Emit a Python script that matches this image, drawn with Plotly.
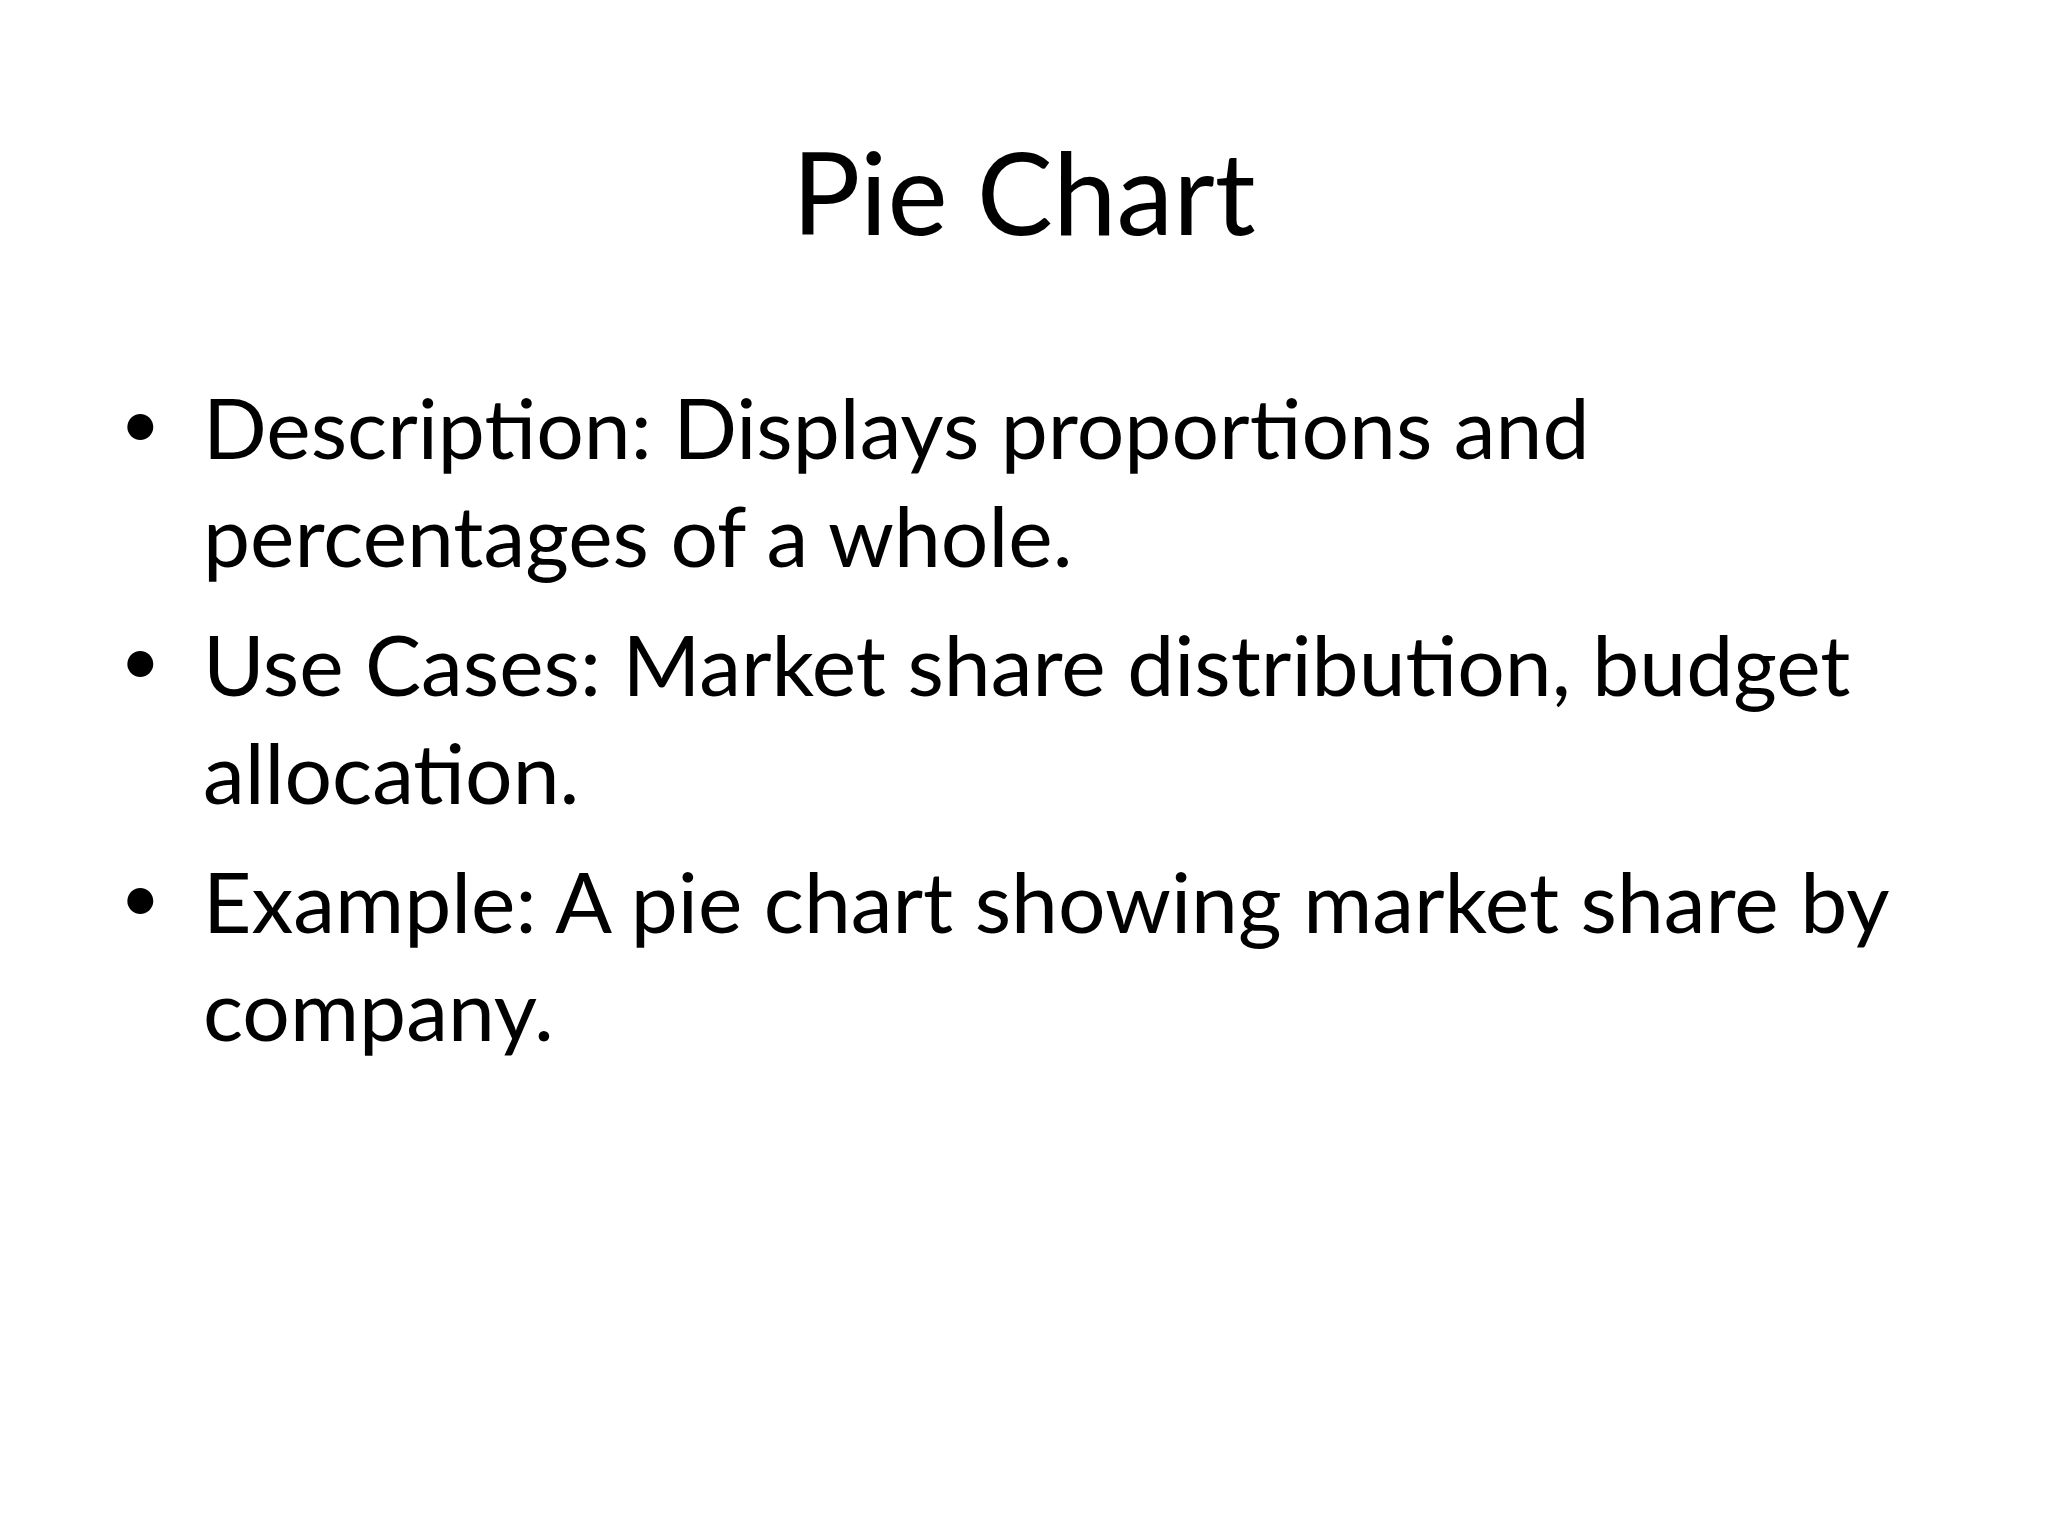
import plotly.graph_objects as go

# slide text
TITLE = "Pie Chart"
BULLETS = [
    ["Description: Displays proportions and", "percentages of a whole."],
    ["Use Cases: Market share distribution, budget", "allocation."],
    ["Example: A pie chart showing market share by", "company."],
]

W, H = 2048, 1536
FONT = "Lato, Carlito, 'Open Sans', sans-serif"

TITLE_SIZE = 114
BODY_SIZE = 84
BULLET_SIZE = 70
TITLE_X = 1016
TITLE_BASE = 239          # baseline of title, px from top
FIRST_BASE = 460          # baseline of first bullet line
LINE_GAP = 108            # within a bullet
PARA_GAP = 129            # between bullets
TEXT_X = 193
BULLET_X = 110
BULLET_RAISE = 12         # bullet glyph sits a bit above the text baseline


def ypos(baseline, size):
    # annotation box is centred; shift so the text baseline lands on `baseline`
    return 1 - (baseline - 0.5 * size) / H


def label(text, x, baseline, size, anchor="left"):
    return dict(
        text=text, x=x / W, y=ypos(baseline, size),
        xref="paper", yref="paper", xanchor=anchor, yanchor="middle",
        showarrow=False, font=dict(family=FONT, size=size, color="black"),
    )


annotations = [label(TITLE, TITLE_X, TITLE_BASE, TITLE_SIZE, "center")]

base = FIRST_BASE
for lines in BULLETS:
    annotations.append(label("•", BULLET_X, base - BULLET_RAISE, BULLET_SIZE))
    for i, line in enumerate(lines):
        annotations.append(label(line, TEXT_X, base + i * LINE_GAP, BODY_SIZE))
    base += (len(lines) - 1) * LINE_GAP + PARA_GAP

fig = go.Figure()
fig.update_layout(
    width=W, height=H,
    margin=dict(l=0, r=0, t=0, b=0),
    paper_bgcolor="white", plot_bgcolor="white",
    xaxis=dict(visible=False, range=[0, 1]),
    yaxis=dict(visible=False, range=[0, 1]),
    annotations=annotations,
    showlegend=False,
)

fig.write_html("out.html", config=dict(displayModeBar=False))
